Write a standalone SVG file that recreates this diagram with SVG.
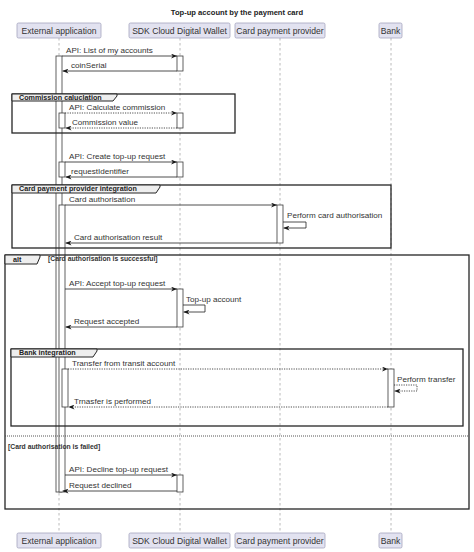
<svg xmlns="http://www.w3.org/2000/svg" width="474" height="552" viewBox="0 0 474 552">
<defs>
<marker id="ah" viewBox="0 0 10 8" refX="10" refY="4" markerWidth="6" markerHeight="5" orient="auto" markerUnits="userSpaceOnUse">
<path d="M0,0 L10,4 L0,8 L3,4 Z" fill="#181818"/>
</marker>
<style>
text{font-family:"Liberation Sans",Arial,sans-serif;fill:#222}
.title{font-size:7.6px;font-weight:bold}
.pbox{fill:#E2E2F0;stroke:#A4A4BE;stroke-width:0.8}
.ptxt{font-size:8.6px;fill:#333}
.life{stroke:#A8A8A8;stroke-width:0.8;stroke-dasharray:2.5,2.5;fill:none}
.bar{fill:#fff;stroke:#3a3a3a;stroke-width:0.8}
.msg{stroke:#222;stroke-width:0.8;fill:none;marker-end:url(#ah)}
.dot{stroke-dasharray:1.2,1.2}
.mt{font-size:8.1px;fill:#333}
.frame{fill:none;stroke:#262626;stroke-width:1.3}
.tab{fill:#EEEEEE;stroke:#262626;stroke-width:1}
.ft{font-size:7.2px;font-weight:bold}
.guard{font-size:6.8px;font-weight:bold;fill:#333}
.sep{stroke:#444;stroke-width:0.9;stroke-dasharray:1,1}
</style>
</defs>
<text class="title" x="237" y="15" text-anchor="middle">Top-up account by the payment card</text>

<g id="lifelines">
<line class="life" x1="59" y1="38" x2="59" y2="533"/>
<line class="life" x1="180" y1="38" x2="180" y2="533"/>
<line class="life" x1="280" y1="38" x2="280" y2="533"/>
<line class="life" x1="391" y1="38" x2="391" y2="533"/>
</g>

<g id="p-ext">
<rect class="pbox" x="17" y="23" width="84" height="15" rx="1.5"/>
<text class="ptxt" x="59" y="33.5" text-anchor="middle">External application</text>
<rect class="pbox" x="17" y="533" width="84" height="15" rx="1.5"/>
<text class="ptxt" x="59" y="543.5" text-anchor="middle">External application</text>
</g>
<g id="p-sdk">
<rect class="pbox" x="129" y="23" width="101" height="15" rx="1.5"/>
<text class="ptxt" x="179.5" y="33.5" text-anchor="middle">SDK Cloud Digital Wallet</text>
<rect class="pbox" x="129" y="533" width="101" height="15" rx="1.5"/>
<text class="ptxt" x="179.5" y="543.5" text-anchor="middle">SDK Cloud Digital Wallet</text>
</g>
<g id="p-card">
<rect class="pbox" x="235" y="23" width="90" height="15" rx="1.5"/>
<text class="ptxt" x="280" y="33.5" text-anchor="middle">Card payment provider</text>
<rect class="pbox" x="235" y="533" width="90" height="15" rx="1.5"/>
<text class="ptxt" x="280" y="543.5" text-anchor="middle">Card payment provider</text>
</g>
<g id="p-bank">
<rect class="pbox" x="379" y="23" width="23" height="15" rx="1.5"/>
<text class="ptxt" x="390.5" y="33.5" text-anchor="middle">Bank</text>
<rect class="pbox" x="379" y="533" width="23" height="15" rx="1.5"/>
<text class="ptxt" x="390.5" y="543.5" text-anchor="middle">Bank</text>
</g>

<g id="activations">
<rect class="bar" x="56" y="56" width="6" height="436"/>
<rect class="bar" x="59" y="113" width="6" height="15"/>
<rect class="bar" x="59" y="162" width="6" height="15"/>
<rect class="bar" x="59" y="205" width="6" height="287"/>
<rect class="bar" x="62" y="369" width="6" height="38"/>
<rect class="bar" x="177" y="56" width="6" height="15"/>
<rect class="bar" x="177" y="113" width="6" height="15"/>
<rect class="bar" x="177" y="162" width="6" height="15"/>
<rect class="bar" x="177" y="289" width="6" height="38"/>
<rect class="bar" x="177" y="475" width="6" height="17"/>
<rect class="bar" x="277" y="205" width="6" height="38"/>
<rect class="bar" x="388" y="369" width="6" height="38"/>
</g>

<g id="frames">
<rect class="frame" x="12" y="94" width="223" height="39"/>
<path class="tab" d="M12,94 H117 V96 L113,101 H12 Z"/>
<text class="ft" x="19" y="99.6">Commission caluclation</text>

<rect class="frame" x="12" y="185" width="379" height="63"/>
<path class="tab" d="M12,185 H160 V187 L156,193 H12 Z"/>
<text class="ft" x="19" y="191.4">Card payment provider integration</text>

<rect class="frame" x="5" y="255" width="464" height="254"/>
<path class="tab" d="M5,255 H40 V257 L37,264 H5 Z"/>
<text class="ft" x="13" y="261.6">alt</text>
<text class="guard" x="48" y="261.2">[Card authorisation is successful]</text>
<line class="sep" x1="5" y1="436" x2="469" y2="436"/>
<text class="guard" x="8" y="449">[Card authorisation is failed]</text>

<rect class="frame" x="11" y="349" width="452" height="77"/>
<path class="tab" d="M11,349 H97 V351 L93,357 H11 Z"/>
<text class="ft" x="19" y="355.4">Bank integration</text>
</g>

<g id="connectors">
<line class="msg" x1="62" y1="56" x2="177" y2="56"/>
<text class="mt" x="66" y="52.5">API: List of my accounts</text>
<line class="msg" x1="177" y1="71" x2="62.5" y2="71"/>
<text class="mt" x="71" y="67.5">coinSerial</text>

<line class="msg dot" x1="65" y1="113" x2="177" y2="113"/>
<text class="mt" x="69" y="110">API: Calculate commission</text>
<line class="msg dot" x1="177" y1="128" x2="65.5" y2="128"/>
<text class="mt" x="72" y="125">Commission value</text>

<line class="msg" x1="65" y1="162" x2="177" y2="162"/>
<text class="mt" x="69" y="159">API: Create top-up request</text>
<line class="msg" x1="177" y1="177" x2="65.5" y2="177"/>
<text class="mt" x="71" y="174">requestIdentifier</text>

<line class="msg" x1="65" y1="205" x2="277" y2="205"/>
<text class="mt" x="69" y="202">Card authorisation</text>
<path class="msg" d="M283,222 H306 V228 H283.5"/>
<text class="mt" x="287" y="218">Perform card authorisation</text>
<line class="msg" x1="277" y1="243" x2="65.5" y2="243"/>
<text class="mt" x="74" y="240">Card authorisation result</text>

<line class="msg" x1="65" y1="289" x2="177" y2="289"/>
<text class="mt" x="69" y="286">API: Accept top-up request</text>
<path class="msg" d="M183,305 H205 V312 H183.5"/>
<text class="mt" x="186" y="301.5">Top-up account</text>
<line class="msg" x1="177" y1="327" x2="65.5" y2="327"/>
<text class="mt" x="74" y="324">Request accepted</text>

<line class="msg dot" x1="68" y1="369" x2="388" y2="369"/>
<text class="mt" x="72" y="366">Transfer from transit account</text>
<path class="msg dot" d="M394,385 H417 V391 H394.5"/>
<text class="mt" x="397" y="382">Perform transfer</text>
<line class="msg dot" x1="388" y1="407" x2="68.5" y2="407"/>
<text class="mt" x="74" y="404">Trnasfer is performed</text>

<line class="msg" x1="65" y1="475" x2="177" y2="475"/>
<text class="mt" x="69" y="472">API: Decline top-up request</text>
<line class="msg" x1="177" y1="491" x2="62.5" y2="491"/>
<text class="mt" x="69" y="487.5">Request declined</text>
</g>
</svg>
